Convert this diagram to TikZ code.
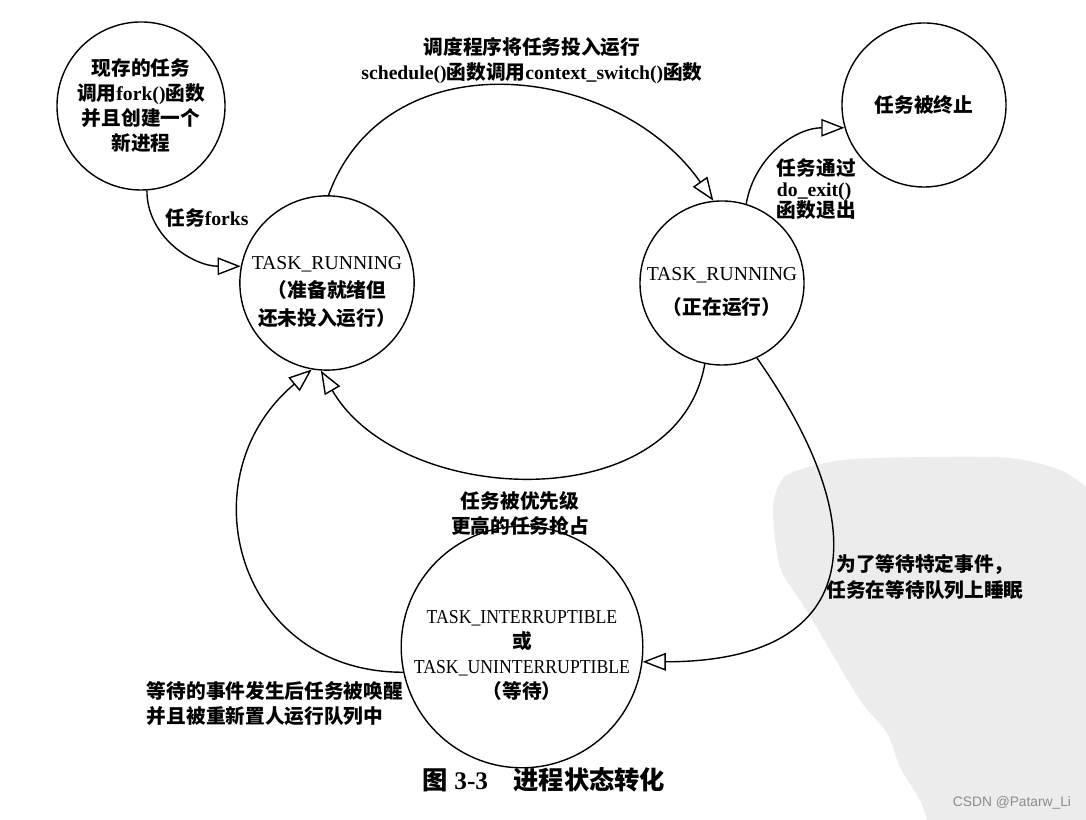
\documentclass[tikz,border=0pt]{standalone}
\usepackage{fontspec}
\setmainfont{Liberation Serif}
\setsansfont{Liberation Sans}
\newfontfamily\cjk{Noto Sans CJK SC}
\newfontfamily\narrowfont[FakeStretch=0.9]{Liberation Serif}
\usetikzlibrary{arrows.meta}
\newcommand{\zh}[1]{{\cjk\bfseries #1}}
\newcommand{\toppad}{\rule{0pt}{22pt}}
\definecolor{wmgray}{RGB}{236,236,236}
\begin{document}
\begin{tikzpicture}[x=0.025cm, y=0.025cm,
    state/.style={draw, circle, line width=1pt, inner sep=0pt, align=center,
        font=\fontsize{14}{17.8}\selectfont},
    lbl/.style={align=center, font=\bfseries\fontsize{14}{17.8}\selectfont},
    arr/.style={line width=1pt, -{Triangle[open, length=0.58cm, width=0.44cm]}}]
    \useasboundingbox (0,0) rectangle (1086,820);
    \fill[white] (0,0) rectangle (1086,820);

    % 背景水印
    \fill[wmgray] plot[smooth] coordinates {(927,0) (920,20) (900,53) (887,87)
        (860,120) (820,187) (800,220) (780,253) (773,310) (780,337) (793,348)
        (843,360) (927,363) (1010,362) (1060,350) (1086,333)} -- (1086,0) -- cycle;
    \node[text=black!45, font=\sffamily\fontsize{9.8}{11}\selectfont] (mark) at (1012,17) {CSDN @Patarw\_Li};

    % 状态
    \node[state, minimum size=4.2cm] (new) at (141,714)
        {\zh{现存的任务}\\\zh{调用}\textbf{fork()}\zh{函数}\\\zh{并且创建一个}\\\zh{新进程}};
    \node[state, minimum size=4.15cm] (ready) at (327,537)
        {\toppad TASK\_RUNNING\\[2pt]\zh{（准备就绪但}\\[2pt]\zh{还未投入运行）}};
    \node[state, minimum size=4.1cm] (run) at (722,537)
        {\toppad TASK\_RUNNING\\[6pt]\zh{（正在运行）}};
    \node[state, minimum size=4.1cm] (dead) at (924,715) {\zh{任务被终止}};
    \node[state, minimum size=5.45cm] (wait) at (522,173)
        {\toppad{\narrowfont TASK\_INTERRUPTIBLE}\\\zh{或}\\{\narrowfont TASK\_UNINTERRUPTIBLE}\\\zh{（等待）}};

    % 转换
    \draw[arr] (new.-86) to[out=-90, in=180] (ready.169);
    \draw[arr] (ready.89) to[out=70, in=125, looseness=1.12] (run.96);
    \draw[arr] (run.73) to[out=80, in=180] (dead.-164);
    \draw[arr] (run.-102) to[out=-100, in=-60, looseness=1.05] (ready.-94);
    \draw[arr] (run.-65) to[out=-55, in=0, looseness=1.7] (wait.-7);
    \draw[arr] (wait.-168) to[out=180, in=-140, looseness=1.35] (ready.-100);

    % 说明文字
    \node[lbl] (sched) at (532,759.5)
        {\zh{调度程序将任务投入运行}\\schedule()\zh{函数调用}context\_switch()\zh{函数}};
    \node[lbl] (forks) at (207,602) {\zh{任务}forks};
    \node[lbl, align=left, anchor=west, font=\bfseries\fontsize{14}{15}\selectfont] (exit) at (772,631)
        {\zh{任务通过}\\do\_exit()\\\zh{函数退出}};
    \node[lbl] (preempt) at (520,307) {\zh{任务被优先级}\\\zh{更高的任务抢占}};
    \node[lbl] (sleep) at (925,243) {\zh{为了等待特定事件，}\\\zh{任务在等待队列上睡眠}};
    \node[lbl, align=left, anchor=west] (wake) at (142,116)
        {\zh{等待的事件发生后任务被唤醒}\\\zh{并且被重新置人运行队列中}};
    \node[lbl, font=\bfseries\fontsize{18}{20}\selectfont] (caption) at (544,40)
        {\zh{图} 3-3\quad\zh{进程状态转化}};
\end{tikzpicture}
\end{document}
